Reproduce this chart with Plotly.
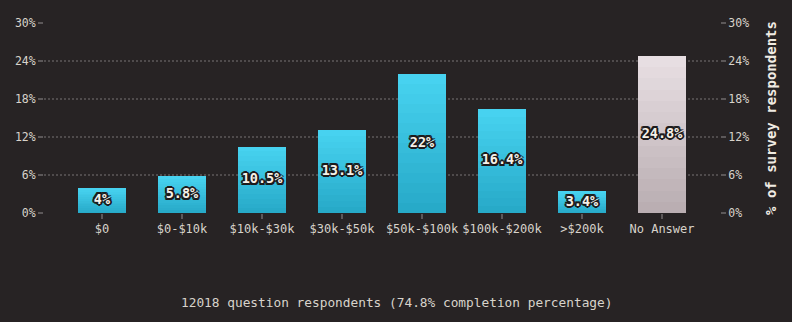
import plotly.graph_objects as go

categories = ["$0", "$0-$10k", "$10k-$30k", "$30k-$50k", "$50k-$100k", "$100k-$200k", ">$200k", "No Answer"]
values = [4.0, 5.8, 10.5, 13.1, 22.0, 16.4, 3.4, 24.8]
labels = ["4%", "5.8%", "10.5%", "13.1%", "22%", "16.4%", "3.4%", "24.8%"]
tick_vals = [0, 6, 12, 18, 24, 30]
tick_text = ["0%", "6%", "12%", "18%", "24%", "30%"]
caption = "12018 question respondents (74.8% completion percentage)"
axis_title = "% of survey respondents"

BG = "#272324"
FONT = "DejaVu Sans Mono"
TXT = "#d8d3cb"
GRID = "#4f4b4c"
TICK = "#5c5859"

def lerp(c1, c2, t):
    a = [int(c1[i:i + 2], 16) for i in (1, 3, 5)]
    b = [int(c2[i:i + 2], 16) for i in (1, 3, 5)]
    return "rgb(%d,%d,%d)" % tuple(round(a[k] + (b[k] - a[k]) * t) for k in range(3))

fig = go.Figure()

# gradient bars built from stacked segments
N = 14
for s in range(N):
    t = (s + 0.5) / N  # 0 bottom -> 1 top
    cols = []
    for c in categories:
        if c == "No Answer":
            cols.append(lerp("#b8acb0", "#e9e0e4", t))
        else:
            cols.append(lerp("#26a8c7", "#48d4f1", t))
    fig.add_trace(go.Bar(
        x=categories, y=[v / N for v in values], marker=dict(color=cols, line=dict(width=0)),
        width=0.6, showlegend=False, hoverinfo="skip"))

sh = "#1c1a1b"
fig.add_trace(go.Scatter(
    x=categories, y=[v / 2 for v in values], mode="text", text=labels,
    textposition="middle center",
    textfont=dict(family=FONT, size=13.5, color="#f6f1e8", weight="bold",
                  shadow=f"-1.5px -1.5px 0 {sh}, 1.5px -1.5px 0 {sh}, -1.5px 1.5px 0 {sh}, 1.5px 1.5px 0 {sh}, 0 2px 0 {sh}, 0 -2px 0 {sh}, 2px 0 0 {sh}, -2px 0 0 {sh}"),
    showlegend=False, hoverinfo="skip"))

# invisible trace for right axis
fig.add_trace(go.Scatter(x=[categories[0]], y=[0], yaxis="y2", mode="markers",
                         marker=dict(opacity=0), showlegend=False, hoverinfo="skip"))

fig.update_layout(
    width=792, height=322, barmode="stack", bargap=0.4,
    paper_bgcolor=BG, plot_bgcolor=BG,
    margin=dict(l=44, r=72, t=23, b=109),
    font=dict(family=FONT, color=TXT, size=12),
    xaxis=dict(type="category", range=[-0.725, 7.725], showgrid=False, zeroline=False,
               ticks="outside", ticklen=5, tickcolor=TICK, tickwidth=2,
               tickfont=dict(family=FONT, size=12, color=TXT), showline=False),
    yaxis=dict(range=[0, 30], tickvals=tick_vals, ticktext=tick_text, showgrid=True,
               gridcolor=GRID, griddash="2px,2px", gridwidth=2, zeroline=False,
               ticks="outside", ticklen=5, tickcolor=TICK, tickwidth=2,
               tickfont=dict(family=FONT, size=11.5, color=TXT)),
    yaxis2=dict(range=[0, 30], tickvals=tick_vals, ticktext=tick_text, overlaying="y",
                side="right", showgrid=False, zeroline=False,
                ticks="outside", ticklen=5, tickcolor=TICK, tickwidth=2,
                tickfont=dict(family=FONT, size=11.5, color=TXT),
                title=dict(text=axis_title, font=dict(family=FONT, size=14, color="#f0ebe3", weight="bold"),
                           standoff=18)),
    annotations=[dict(text=caption, x=(396 - 44) / 676, xref="paper", xanchor="center",
                      y=0, yref="paper", yanchor="middle", showarrow=False,
                      font=dict(family=FONT, size=12.8, color=TXT))],
)
plot_h = 322 - 23 - 109
fig.layout.annotations[0].y = (322 - 109 - 302) / plot_h

fig.write_html("out.html")
